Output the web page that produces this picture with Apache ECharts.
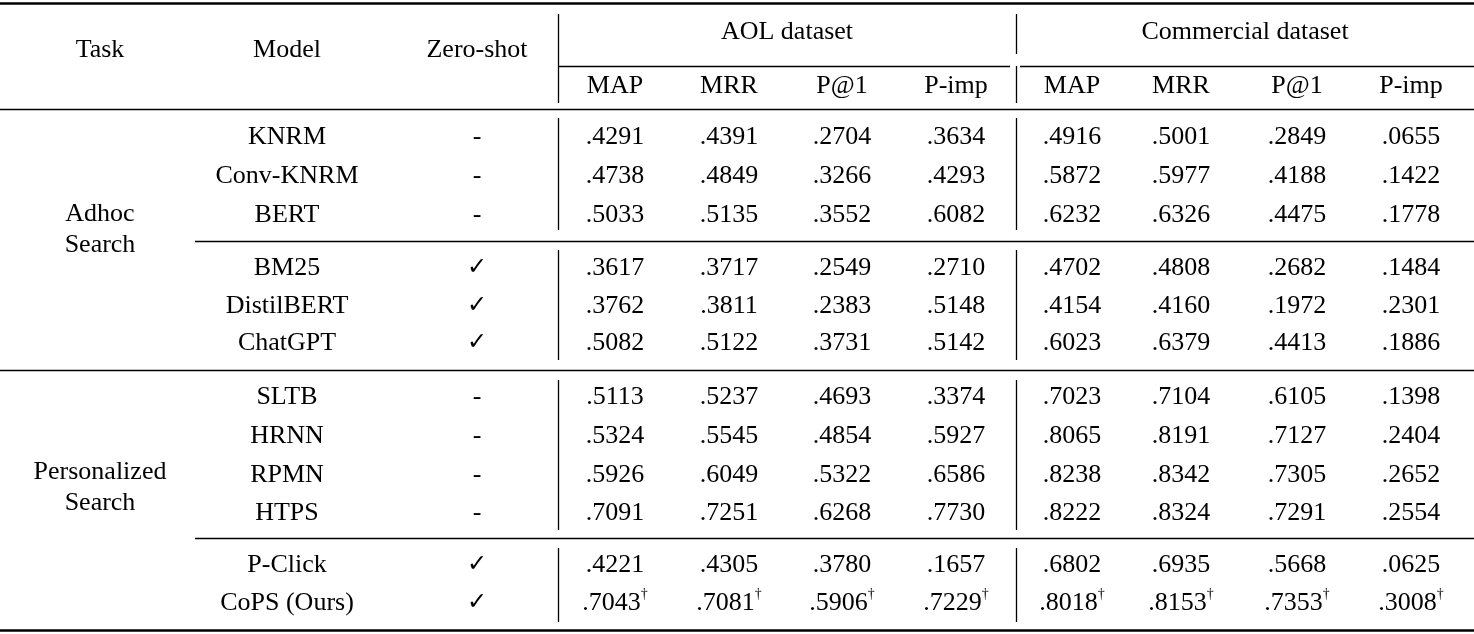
<!DOCTYPE html><html><head><meta charset="utf-8">
<script src="https://cdn.jsdelivr.net/npm/echarts@6/dist/echarts.min.js"></script>
<style>html,body{margin:0;padding:0;background:#fff}#c{width:1474px;height:634px}</style></head><body><div id="c"></div>
<script>
const models=['KNRM','Conv-KNRM','BERT','BM25','DistilBERT','ChatGPT','SLTB','HRNN','RPMN','HTPS','P-Click','CoPS (Ours)'];
const zeroShot=['-','-','-','✓','✓','✓','-','-','-','-','✓','✓'];
const metrics=['MAP','MRR','P@1','P-imp'];
const aolMAP=['.4291','.4738','.5033','.3617','.3762','.5082','.5113','.5324','.5926','.7091','.4221','.7043'];
const aolMRR=['.4391','.4849','.5135','.3717','.3811','.5122','.5237','.5545','.6049','.7251','.4305','.7081'];
const aolP1=['.2704','.3266','.3552','.2549','.2383','.3731','.4693','.4854','.5322','.6268','.3780','.5906'];
const aolPimp=['.3634','.4293','.6082','.2710','.5148','.5142','.3374','.5927','.6586','.7730','.1657','.7229'];
const comMAP=['.4916','.5872','.6232','.4702','.4154','.6023','.7023','.8065','.8238','.8222','.6802','.8018'];
const comMRR=['.5001','.5977','.6326','.4808','.4160','.6379','.7104','.8191','.8342','.8324','.6935','.8153'];
const comP1=['.2849','.4188','.4475','.2682','.1972','.4413','.6105','.7127','.7305','.7291','.5668','.7353'];
const comPimp=['.0655','.1422','.1778','.1484','.2301','.1886','.1398','.2404','.2652','.2554','.0625','.3008'];
const dagger=[0,0,0,0,0,0,0,0,0,0,0,1];
const tasks=['Adhoc\nSearch','Personalized\nSearch'];

// layout
const colX=[100,287,477,615,729,842,956,1072,1181,1297,1411];
const rowY=[137,176,215,268,306,343,397,436,475,513,565,603];
const taskY=[230,488];
const pts=[];
function t(x,y,s){pts.push({value:[x,y],label:{formatter:s}});}
t(colX[0],50,'Task');t(colX[1],50,'Model');t(colX[2],50,'Zero-shot');
t((558+1016)/2,32,'AOL dataset');t((1016+1474)/2,32,'Commercial dataset');
for(let k=0;k<8;k++)t(colX[3+k],86,metrics[k%4]);
tasks.forEach((s,i)=>t(colX[0],taskY[i],s));
const cols=[aolMAP,aolMRR,aolP1,aolPimp,comMAP,comMRR,comP1,comPimp];
models.forEach((m,i)=>{
  t(colX[1],rowY[i],m);t(colX[2],rowY[i],zeroShot[i]==='✓'?'{c|✓}':zeroShot[i]);
  cols.forEach((c,k)=>t(colX[3+k],rowY[i],dagger[i]?'{a|'+c[i]+'}{s|†}':c[i]));
});
const L=[];
function ln(x1,y1,x2,y2,w){L.push({coords:[[x1,y1],[x2,y2]],lineStyle:{width:w||1.3}});}
ln(0,3,1474,3,2.5);ln(558,66,1010,66);ln(1020,66,1474,66);ln(0,109,1474,109);
ln(195,241,1474,241);ln(0,370,1474,370);ln(195,538,1474,538);ln(0,630,1474,630,2.5);
ln(558,14,558,103);ln(1016,14,1016,54);ln(1016,66,1016,103);
[[118,230],[250,360],[380,530],[548,622]].forEach(s=>{ln(558,s[0],558,s[1]);ln(1016,s[0],1016,s[1]);});
const font='"Liberation Serif","DejaVu Serif",serif';
echarts.init(document.getElementById('c')).setOption({
  animation:false,
  grid:{left:0,right:0,top:0,bottom:0},
  xAxis:{type:'value',min:0,max:1474,show:false},
  yAxis:{type:'value',min:0,max:634,inverse:true,show:false},
  series:[
    {type:'scatter',symbolSize:0,data:pts,itemStyle:{opacity:1},label:{show:true,position:'inside',color:'#000',fontFamily:font,fontSize:26,lineHeight:31,
      rich:{a:{fontFamily:font,fontSize:26,color:'#000'},s:{fontFamily:font,fontSize:14,verticalAlign:'top',color:'#000',padding:[0,0,12,0]},c:{fontFamily:'DejaVu Sans',fontSize:24,color:'#000'}}}},
    {type:'lines',coordinateSystem:'cartesian2d',data:L,lineStyle:{color:'#000',opacity:1},silent:true}
  ]
});
</script></body></html>
